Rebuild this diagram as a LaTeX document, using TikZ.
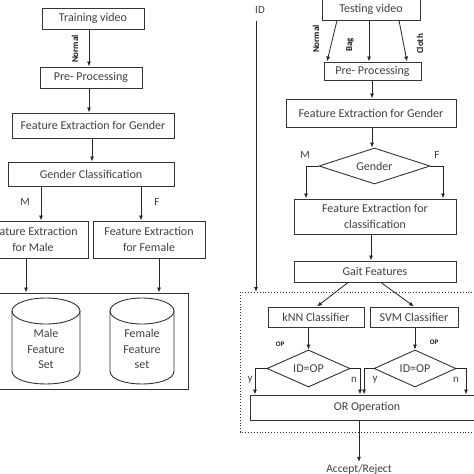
\documentclass[tikz,border=0pt]{standalone}
\usepackage{fontspec}
\setmainfont{Carlito}
\usetikzlibrary{arrows.meta,shapes.geometric,calc}
\begin{document}
\begin{tikzpicture}[x=1pt,y=-1pt,
  box/.style={draw=black!80, line width=1pt, rectangle, inner sep=1pt, align=center,
    font=\fontsize{12}{15.5}\selectfont, text=black!75},
  dia/.style={draw=black!80, line width=0.9pt, diamond, inner sep=0pt, aspect=3,
    font=\fontsize{12}{14}\selectfont, text=black!75},
  arr/.style={draw=black!85, line width=0.8pt, -{Latex[length=5pt,width=4pt]}},
  lab/.style={font=\fontsize{11}{13}\selectfont, text=black!75, inner sep=0pt},
  rlab/.style={font=\fontsize{9}{10}\selectfont\bfseries, text=black!90, rotate=90, inner sep=0pt},
  oplab/.style={font=\fontsize{7}{8}\selectfont\bfseries, text=black!90, inner sep=0pt},
  cyl/.style={draw=black!80, line width=0.9pt},
  dotbox/.style={draw=black!80, line width=0.9pt, dotted}
]
\useasboundingbox (0,0) rectangle (474,474);
\fill[white] (0,0) rectangle (474,474);

% ---------- left column ----------
\node[box, minimum width=102pt, minimum height=21pt] (train) at (93,18.5) {Training video};
\node[box, minimum width=102pt, minimum height=21pt] (pre1) at (91,77.5) {Pre- Processing};
\node[box, minimum width=162pt, minimum height=25pt] (feg1) at (93,125.5) {Feature Extraction for Gender};
\node[box, minimum width=166pt, minimum height=24pt] (gc) at (91,174) {Gender Classification};
\node[box, minimum width=110pt, minimum height=37pt] (fem) at (33,239.5) {Feature Extraction\\for Male};
\node[box, minimum width=112pt, minimum height=37pt] (fef) at (149,239.5) {Feature Extraction\\for Female};
\node[box, minimum width=191pt, minimum height=96pt] (store) at (92.5,341) {};

\draw[arr] (train.south -| 89,0) -- (pre1.north -| 89,0);
\node[rlab] (lnormal) at (75,49) {Normal};
\draw[arr] (pre1.south -| 89,0) -- (feg1.north -| 89,0);
\draw[arr] (feg1.south -| 92,0) -- (gc.north -| 92,0);
\draw[arr] (gc.south -| 41,0) -- (fem.north -| 41,0);
\draw[arr] (gc.south -| 141,0) -- (fef.north -| 141,0);
\node[lab] (lm) at (25,202) {M};
\node[lab] (lf) at (157,202) {F};
\draw[arr] (fem.south -| 26,0) -- (store.north -| 26,0);
\draw[arr] (fef.south -| 159,0) -- (store.north -| 159,0);

% cylinders
\draw[cyl] (46,311) ellipse [x radius=34pt, y radius=13pt];
\draw[cyl] (12,311) -- (12,371) .. controls (12,388.3) and (80,388.3) .. (80,371) -- (80,311);
\draw[cyl] (142,311) ellipse [x radius=32pt, y radius=13pt];
\draw[cyl] (110,311) -- (110,371) .. controls (110,388.3) and (174,388.3) .. (174,371) -- (174,311);
\node[lab, align=center, font=\fontsize{12}{15.5}\selectfont] (mset) at (46,349) {Male\\Feature\\Set};
\node[lab, align=center, font=\fontsize{12}{15.5}\selectfont] (fset) at (142,349) {Female\\Feature\\set};

% ---------- right column ----------
\node[lab] (id) at (260,10) {ID};
\node[box, minimum width=98pt, minimum height=22pt] (test) at (371,9) {Testing video};
\node[box, minimum width=97pt, minimum height=18pt] (pre2) at (372.5,71) {Pre- Processing};
\node[box, minimum width=170pt, minimum height=28pt] (feg2) at (371,113) {Feature Extraction for Gender};
\node[dia, minimum width=111pt, minimum height=36pt] (gender) at (374.5,166) {Gender};
\node[box, minimum width=162pt, minimum height=35pt] (fec) at (375,216.5) {Feature Extraction for\\classification};
\node[box, minimum width=162pt, minimum height=21pt] (gait) at (375,271.5) {Gait Features};
\node[box, minimum width=96pt, minimum height=20pt] (knn) at (316,317) {kNN Classifier};
\node[box, minimum width=88pt, minimum height=20pt] (svm) at (414,317) {SVM Classifier};
\node[dia, minimum width=83pt, minimum height=37pt] (d1) at (308.5,368.5) {ID=OP};
\node[dia, minimum width=82pt, minimum height=37pt] (d2) at (415,368.5) {ID=OP};
\node[box, minimum width=234pt, minimum height=25pt] (or) at (367,407.5) {OR Operation};
\node[lab, font=\fontsize{11.5}{13}\selectfont, inner sep=2pt] (acc) at (359,469) {Accept/Reject};

\draw[dotbox] (240,292) rectangle (480,432);
\coordinate (idtop) at (256,21);
\draw[arr] (idtop) -- (idtop |- 0,292);

\draw[arr] ([xshift=-34pt]test.south) -- ([xshift=-45.5pt]pre2.north);
\draw[arr] ([xshift=-2pt]test.south) -- ([xshift=-3.5pt]pre2.north);
\draw[arr] ([xshift=28pt]test.south) -- ([xshift=34.5pt]pre2.north);
\node[rlab] (rnormal) at (316,39) {Normal};
\node[rlab] (rbag) at (350,45) {Bag};
\node[rlab] (rcloth) at (420,44) {Cloth};

\draw[arr] (pre2.south -| 372,0) -- (feg2.north -| 372,0);
\draw[arr] (feg2.south -| 372,0) -- (gender.north -| 372,0);
\draw[arr] (gender.west) -| (fec.north -| 306,0);
\draw[arr] (gender.east) -| (fec.north -| 443,0);
\node[lab] (rm) at (305,155) {M};
\node[lab] (rf) at (437,155) {F};
\draw[arr] (fec.south -| 371,0) -- (gait.north -| 371,0);
\draw[arr] (gait.south -| 348,0) -- ([xshift=1pt]knn.north);
\draw[arr] (gait.south -| 381,0) -- (svm.north);

\draw[arr] (d1.north |- knn.south) -- (d1.north);
\draw[arr] (d2.north |- svm.south) -- (d2.north);
\node[oplab] (op1) at (280,344) {OP};
\node[oplab] (op2) at (434,342) {OP};

\draw[arr] (d1.west) -| (or.north -| 255,0);
\draw[arr] (d1.east) -| (or.north -| 360,0);
\draw[arr] (d2.west) -| (or.north -| 364,0);
\draw[arr] (d2.east) -| (or.north -| 466,0);
\node[lab] (y1) at (250,380) {y};
\node[lab] (n1) at (354,380) {n};
\node[lab] (y2) at (375,380) {y};
\node[lab] (n2) at (456,380) {n};

\draw[arr] (or.south -| acc.north) -- (acc.north);
\end{tikzpicture}
\end{document}
